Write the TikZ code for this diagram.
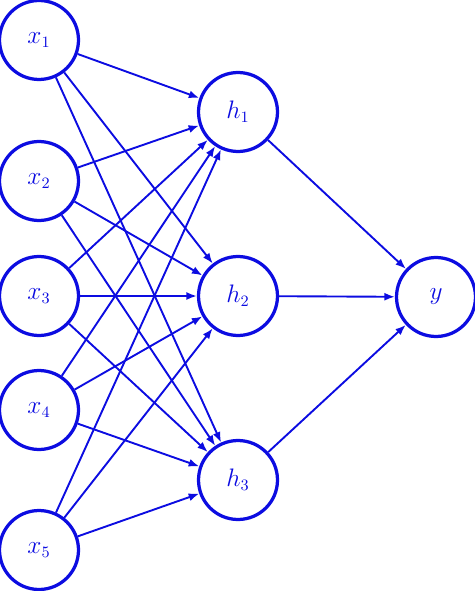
\documentclass[tikz,border=0pt]{standalone}
\usetikzlibrary{arrows.meta}
\definecolor{nnblue}{RGB}{12,12,225}
\begin{document}
\begin{tikzpicture}[x=0.02cm,y=-0.02cm,
  neuron/.style={circle,draw=nnblue,line width=0.065cm,minimum size=1.58cm,inner sep=0pt,text=nnblue,font=\fontsize{13.5}{15}\selectfont,fill=white},
  conn/.style={draw=nnblue,line width=0.038cm,-{Latex[length=0.21cm,width=0.16cm]}}]
\useasboundingbox (0,0) rectangle (474,591);
\node[neuron] (x1) at (39,40) {$x_1$};
\node[neuron] (x2) at (39,181) {$x_2$};
\node[neuron] (x3) at (39,296) {$x_3$};
\node[neuron] (x4) at (39,410) {$x_4$};
\node[neuron] (x5) at (39,550) {$x_5$};
\node[neuron] (h1) at (238,112) {$h_1$};
\node[neuron] (h2) at (238,296) {$h_2$};
\node[neuron] (h3) at (238,480) {$h_3$};
\node[neuron] (y) at (436,297) {$y$};
\foreach \i in {1,...,5}{
  \foreach \j in {1,2,3}{
    \draw[conn] (x\i) -- (h\j);
  }
}
\foreach \j in {1,2,3}{
  \draw[conn] (h\j) -- (y);
}
\end{tikzpicture}
\end{document}
